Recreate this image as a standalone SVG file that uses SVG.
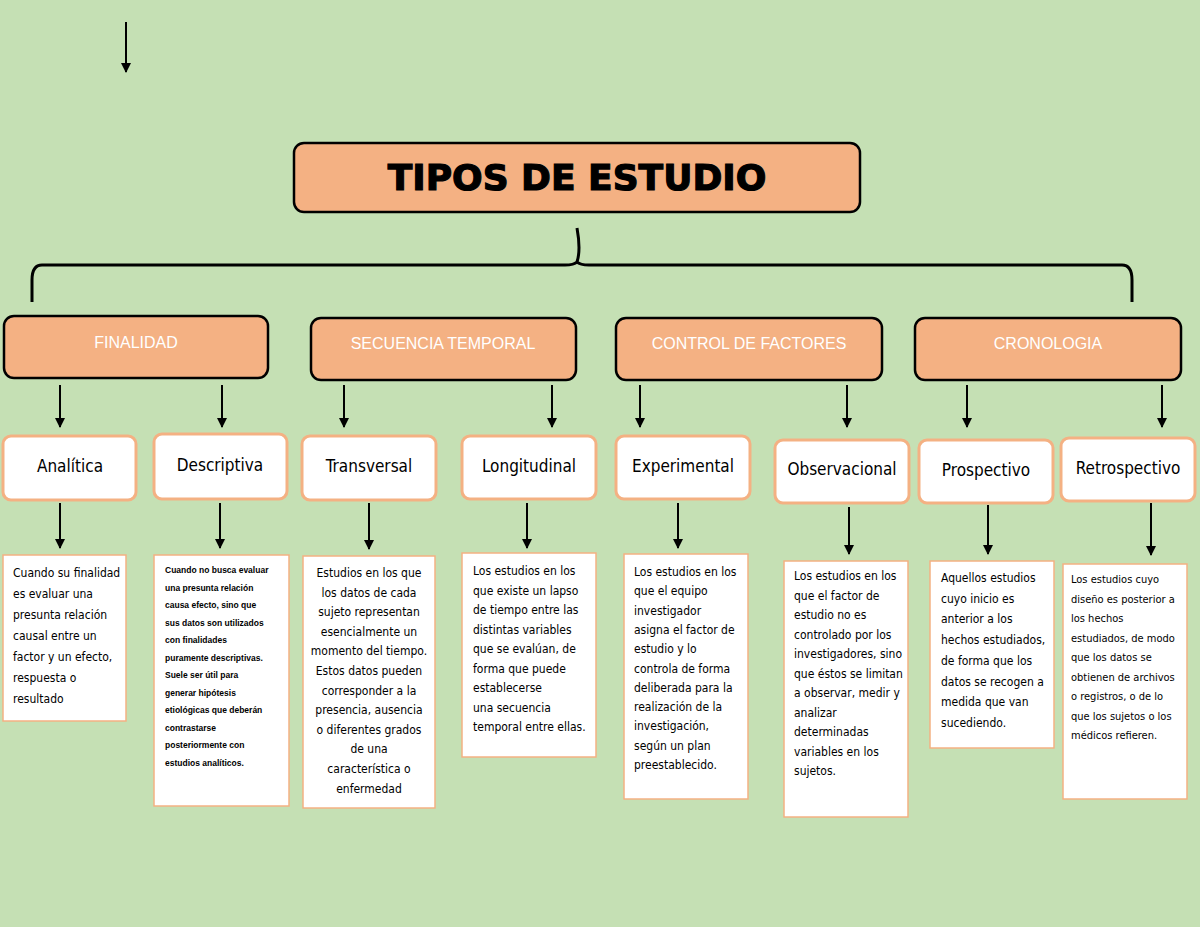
<svg xmlns="http://www.w3.org/2000/svg" width="1200" height="927" viewBox="0 0 1200 927">
<defs>
<marker id="ah" viewBox="0 0 10 10" refX="9" refY="5" markerWidth="5" markerHeight="5" orient="auto"><path d="M0,0 L10,5 L0,10 z" fill="#000"/></marker>
<style>
.cat{fill:#f4b183;stroke:#000;stroke-width:2.5}
.ct{font-family:"Liberation Sans",sans-serif;font-size:16px;fill:#fff;text-anchor:middle}
.ch{fill:#fff;stroke:#f4b183;stroke-width:3}
.cht{font-family:"DejaVu Sans Condensed","Liberation Sans",sans-serif;font-stretch:condensed;font-size:17px;fill:#000;text-anchor:middle}
.tb{fill:#fff;stroke:#f4b183;stroke-width:1.5}
.tt{font-family:"DejaVu Sans Condensed","Liberation Sans",sans-serif;font-stretch:condensed;font-size:12px;fill:#000}
.ar{stroke:#000;stroke-width:2;fill:none;marker-end:url(#ah)}
</style>
</defs>
<rect width="1200" height="927" fill="#c5e0b4"/>
<g id="connectors">
<path class="ar" d="M126 22 V72"/>
<path d="M577 228 Q581 250 577 262 Q574 265 565 265 H42 Q32 265 32 280 V302 M589 265 H1122 Q1132 265 1132 280 V302 M577 262 Q580 265 589 265" stroke="#000" stroke-width="3" fill="none"/>
<path class="ar" d="M60 385 V427"/><path class="ar" d="M222 385 V427"/>
<path class="ar" d="M344 385 V427"/><path class="ar" d="M552 385 V427"/>
<path class="ar" d="M640 385 V427"/><path class="ar" d="M847 385 V427"/>
<path class="ar" d="M967 385 V427"/><path class="ar" d="M1162 385 V427"/>
<path class="ar" d="M60 503 V548"/><path class="ar" d="M220 503 V548"/>
<path class="ar" d="M369 503 V549"/><path class="ar" d="M527 503 V548"/>
<path class="ar" d="M678 503 V548"/><path class="ar" d="M849 507 V554"/>
<path class="ar" d="M988 505 V554"/><path class="ar" d="M1151 503 V555"/>
</g>
<g id="title"><rect x="294" y="143" width="566" height="69" rx="10" class="cat"/><text x="577" y="190" text-anchor="middle" font-family="'DejaVu Sans',sans-serif" font-weight="900" font-size="36" fill="#000" stroke="#000" stroke-width="1.2">TIPOS DE ESTUDIO</text></g>
<g id="finalidad"><rect x="4" y="316" width="264" height="62" rx="10" class="cat"/><text x="136" y="348" class="ct">FINALIDAD</text></g>
<g id="secuencia"><rect x="311" y="318" width="265" height="62" rx="10" class="cat"/><text x="443" y="349" class="ct">SECUENCIA TEMPORAL</text></g>
<g id="control"><rect x="616" y="318" width="266" height="62" rx="10" class="cat"/><text x="749" y="349" class="ct">CONTROL DE FACTORES</text></g>
<g id="cronologia"><rect x="915" y="318" width="266" height="62" rx="10" class="cat"/><text x="1048" y="349" class="ct">CRONOLOGIA</text></g>
<g id="analitica"><rect x="3" y="436" width="133" height="64" rx="8" class="ch"/><text x="70" y="472" class="cht">Analítica</text></g>
<g id="descriptiva"><rect x="154" y="434" width="133" height="65" rx="8" class="ch"/><text x="220" y="471" class="cht">Descriptiva</text></g>
<g id="transversal"><rect x="302" y="436" width="134" height="64" rx="8" class="ch"/><text x="369" y="472" class="cht">Transversal</text></g>
<g id="longitudinal"><rect x="462" y="436" width="134" height="63" rx="8" class="ch"/><text x="529" y="472" class="cht">Longitudinal</text></g>
<g id="experimental"><rect x="616" y="436" width="134" height="63" rx="8" class="ch"/><text x="683" y="472" class="cht">Experimental</text></g>
<g id="observacional"><rect x="775" y="440" width="134" height="63" rx="8" class="ch"/><text x="842" y="475" class="cht">Observacional</text></g>
<g id="prospectivo"><rect x="919" y="440" width="134" height="63" rx="8" class="ch"/><text x="986" y="476" class="cht">Prospectivo</text></g>
<g id="retrospectivo"><rect x="1061" y="438" width="134" height="63" rx="8" class="ch"/><text x="1128" y="474" class="cht">Retrospectivo</text></g>
<g id="t1"><rect x="3" y="555" width="123" height="166" class="tb"/><text class="tt" x="13" y="577"><tspan x="13">Cuando su finalidad</tspan><tspan x="13" dy="21">es evaluar una</tspan><tspan x="13" dy="21">presunta relación</tspan><tspan x="13" dy="21">causal entre un</tspan><tspan x="13" dy="21">factor y un efecto,</tspan><tspan x="13" dy="21">respuesta o</tspan><tspan x="13" dy="21">resultado</tspan></text></g>
<g id="t2"><rect x="154" y="555" width="135" height="251" class="tb"/><text class="tt" x="165" y="573" style="font-family:'Liberation Sans',sans-serif;font-size:8.5px;font-weight:bold"><tspan x="165">Cuando no busca evaluar</tspan><tspan x="165" dy="17.5">una presunta relación</tspan><tspan x="165" dy="17.5">causa efecto, sino que</tspan><tspan x="165" dy="17.5">sus datos son utilizados</tspan><tspan x="165" dy="17.5">con finalidades</tspan><tspan x="165" dy="17.5">puramente descriptivas.</tspan><tspan x="165" dy="17.5">Suele ser útil para</tspan><tspan x="165" dy="17.5">generar hipótesis</tspan><tspan x="165" dy="17.5">etiológicas que deberán</tspan><tspan x="165" dy="17.5">contrastarse</tspan><tspan x="165" dy="17.5">posteriormente con</tspan><tspan x="165" dy="17.5">estudios analíticos.</tspan></text></g>
<g id="t3"><rect x="303" y="556" width="132" height="252" class="tb"/><text class="tt" x="369" y="577" text-anchor="middle"><tspan x="369">Estudios en los que</tspan><tspan x="369" dy="19.6">los datos de cada</tspan><tspan x="369" dy="19.6">sujeto representan</tspan><tspan x="369" dy="19.6">esencialmente un</tspan><tspan x="369" dy="19.6">momento del tiempo.</tspan><tspan x="369" dy="19.6">Estos datos pueden</tspan><tspan x="369" dy="19.6">corresponder a la</tspan><tspan x="369" dy="19.6">presencia, ausencia</tspan><tspan x="369" dy="19.6">o diferentes grados</tspan><tspan x="369" dy="19.6">de una</tspan><tspan x="369" dy="19.6">característica o</tspan><tspan x="369" dy="19.6">enfermedad</tspan></text></g>
<g id="t4"><rect x="462" y="553" width="134" height="204" class="tb"/><text class="tt" x="473" y="575"><tspan x="473">Los estudios en los</tspan><tspan x="473" dy="19.5">que existe un lapso</tspan><tspan x="473" dy="19.5">de tiempo entre las</tspan><tspan x="473" dy="19.5">distintas variables</tspan><tspan x="473" dy="19.5">que se evalúan, de</tspan><tspan x="473" dy="19.5">forma que puede</tspan><tspan x="473" dy="19.5">establecerse</tspan><tspan x="473" dy="19.5">una secuencia</tspan><tspan x="473" dy="19.5">temporal entre ellas.</tspan></text></g>
<g id="t5"><rect x="624" y="554" width="124" height="245" class="tb"/><text class="tt" x="634" y="576"><tspan x="634">Los estudios en los</tspan><tspan x="634" dy="19.3">que el equipo</tspan><tspan x="634" dy="19.3">investigador</tspan><tspan x="634" dy="19.3">asigna el factor de</tspan><tspan x="634" dy="19.3">estudio y lo</tspan><tspan x="634" dy="19.3">controla de forma</tspan><tspan x="634" dy="19.3">deliberada para la</tspan><tspan x="634" dy="19.3">realización de la</tspan><tspan x="634" dy="19.3">investigación,</tspan><tspan x="634" dy="19.3">según un plan</tspan><tspan x="634" dy="19.3">preestablecido.</tspan></text></g>
<g id="t6"><rect x="784" y="561" width="124" height="256" class="tb"/><text class="tt" x="794" y="580"><tspan x="794">Los estudios en los</tspan><tspan x="794" dy="19.5">que el factor de</tspan><tspan x="794" dy="19.5">estudio no es</tspan><tspan x="794" dy="19.5">controlado por los</tspan><tspan x="794" dy="19.5">investigadores, sino</tspan><tspan x="794" dy="19.5">que éstos se limitan</tspan><tspan x="794" dy="19.5">a observar, medir y</tspan><tspan x="794" dy="19.5">analizar</tspan><tspan x="794" dy="19.5">determinadas</tspan><tspan x="794" dy="19.5">variables en los</tspan><tspan x="794" dy="19.5">sujetos.</tspan></text></g>
<g id="t7"><rect x="930" y="561" width="124" height="187" class="tb"/><text class="tt" x="941" y="582"><tspan x="941">Aquellos estudios</tspan><tspan x="941" dy="20.7">cuyo inicio es</tspan><tspan x="941" dy="20.7">anterior a los</tspan><tspan x="941" dy="20.7">hechos estudiados,</tspan><tspan x="941" dy="20.7">de forma que los</tspan><tspan x="941" dy="20.7">datos se recogen a</tspan><tspan x="941" dy="20.7">medida que van</tspan><tspan x="941" dy="20.7">sucediendo.</tspan></text></g>
<g id="t8"><rect x="1063" y="564" width="124" height="235" class="tb"/><text class="tt" x="1071" y="583" style="font-size:11px"><tspan x="1071">Los estudios cuyo</tspan><tspan x="1071" dy="19.5">diseño es posterior a</tspan><tspan x="1071" dy="19.5">los hechos</tspan><tspan x="1071" dy="19.5">estudiados, de modo</tspan><tspan x="1071" dy="19.5">que los datos se</tspan><tspan x="1071" dy="19.5">obtienen de archivos</tspan><tspan x="1071" dy="19.5">o registros, o de lo</tspan><tspan x="1071" dy="19.5">que los sujetos o los</tspan><tspan x="1071" dy="19.5">médicos refieren.</tspan></text></g>
</svg>
